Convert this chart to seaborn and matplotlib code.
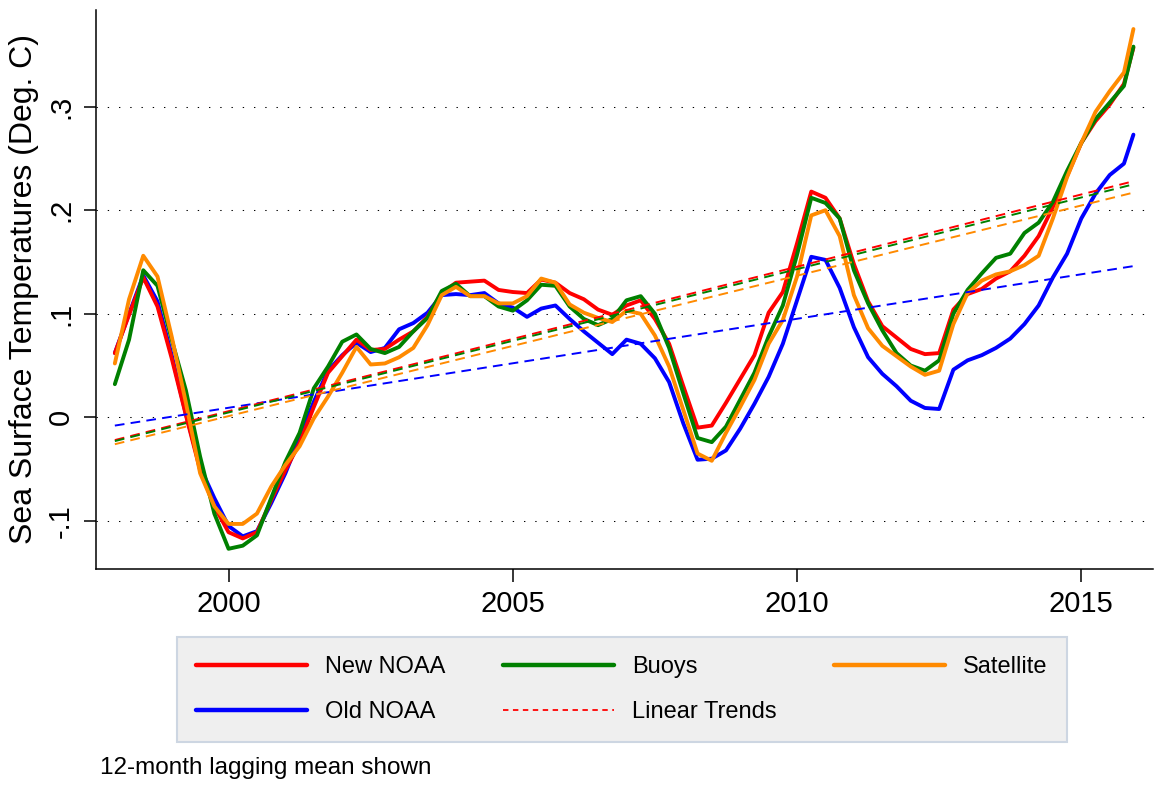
import numpy as np
import pandas as pd
import matplotlib
matplotlib.use("Agg")
import matplotlib.pyplot as plt
from matplotlib.lines import Line2D
import seaborn as sns

# quarterly time axis (1998 -> end of 2015), last point = Dec 2015
time = np.append(np.arange(1998.0, 2016.0, 0.25), 2015.917)

new_noaa = [0.062, 0.099, 0.135, 0.107, 0.057, 0.002, -0.051, -0.086,
            -0.111, -0.117, -0.111, -0.080, -0.051, -0.025, 0.010, 0.043,
            0.059, 0.075, 0.065, 0.066, 0.075, 0.083, 0.097, 0.120,
            0.130, 0.131, 0.132, 0.123, 0.121, 0.120, 0.133, 0.130,
            0.120, 0.114, 0.104, 0.099, 0.108, 0.113, 0.095, 0.071,
            0.030, -0.010, -0.008, 0.014, 0.037, 0.060, 0.101, 0.121,
            0.168, 0.218, 0.212, 0.192, 0.148, 0.112, 0.088, 0.077,
            0.066, 0.061, 0.062, 0.104, 0.119, 0.124, 0.134, 0.141,
            0.156, 0.175, 0.203, 0.233, 0.265, 0.286, 0.302, 0.322, 0.357]

old_noaa = [0.062, 0.100, 0.137, 0.112, 0.060, 0.003, -0.048, -0.078,
            -0.105, -0.115, -0.110, -0.083, -0.054, -0.020, 0.015, 0.045,
            0.060, 0.072, 0.063, 0.067, 0.085, 0.091, 0.101, 0.118,
            0.119, 0.118, 0.120, 0.110, 0.106, 0.097, 0.105, 0.108,
            0.095, 0.083, 0.072, 0.061, 0.075, 0.071, 0.057, 0.034,
            -0.006, -0.041, -0.040, -0.032, -0.011, 0.013, 0.039, 0.071,
            0.113, 0.155, 0.152, 0.125, 0.087, 0.058, 0.042, 0.030,
            0.016, 0.009, 0.008, 0.046, 0.055, 0.060, 0.067, 0.076,
            0.090, 0.108, 0.135, 0.158, 0.192, 0.216, 0.234, 0.245, 0.273]

buoys = [0.032, 0.075, 0.142, 0.127, 0.075, 0.026, -0.038, -0.093,
         -0.127, -0.124, -0.114, -0.078, -0.043, -0.015, 0.028, 0.049,
         0.073, 0.080, 0.066, 0.062, 0.068, 0.083, 0.096, 0.122,
         0.129, 0.117, 0.117, 0.107, 0.103, 0.113, 0.128, 0.127,
         0.107, 0.095, 0.089, 0.095, 0.113, 0.117, 0.100, 0.067,
         0.023, -0.020, -0.024, -0.009, 0.017, 0.043, 0.078, 0.108,
         0.157, 0.212, 0.207, 0.192, 0.142, 0.110, 0.084, 0.062,
         0.050, 0.045, 0.055, 0.100, 0.123, 0.139, 0.154, 0.158,
         0.178, 0.188, 0.208, 0.238, 0.265, 0.288, 0.304, 0.320, 0.358]

satellite = [0.052, 0.114, 0.156, 0.136, 0.078, 0.014, -0.054, -0.086,
             -0.103, -0.103, -0.093, -0.067, -0.046, -0.028, -0.001, 0.020,
             0.043, 0.068, 0.051, 0.052, 0.058, 0.067, 0.089, 0.118,
             0.126, 0.117, 0.117, 0.110, 0.110, 0.117, 0.134, 0.130,
             0.109, 0.101, 0.096, 0.092, 0.103, 0.100, 0.079, 0.049,
             0.007, -0.035, -0.042, -0.015, 0.010, 0.036, 0.071, 0.094,
             0.136, 0.195, 0.200, 0.175, 0.118, 0.086, 0.069, 0.059,
             0.049, 0.041, 0.045, 0.090, 0.120, 0.132, 0.138, 0.141,
             0.147, 0.156, 0.192, 0.232, 0.265, 0.295, 0.315, 0.333, 0.375]

# linear trend lines: value at start and end of the period
trend_x = [1998.0, 2015.917]
trend_new = [-0.022, 0.228]
trend_old = [-0.008, 0.146]
trend_buoys = [-0.023, 0.225]
trend_sat = [-0.026, 0.217]

series_names = ["Old NOAA", "New NOAA", "Buoys", "Satellite"]
colors = {"New NOAA": "#ff0000", "Old NOAA": "#0000ff",
          "Buoys": "#008000", "Satellite": "#ff8a00"}

yticks = [-0.1, 0, 0.1, 0.2, 0.3]
ytick_labels = ["-.1", "0", ".1", ".2", ".3"]
xticks = [2000, 2005, 2010, 2015]

df = pd.concat([
    pd.DataFrame({"year": time, "sst": new_noaa, "series": "New NOAA"}),
    pd.DataFrame({"year": time, "sst": old_noaa, "series": "Old NOAA"}),
    pd.DataFrame({"year": time, "sst": buoys, "series": "Buoys"}),
    pd.DataFrame({"year": time, "sst": satellite, "series": "Satellite"}),
])

sns.set_style("white")
plt.rcParams["font.family"] = ["Liberation Sans", "DejaVu Sans"]
plt.rcParams["text.color"] = "black"
plt.rcParams["xtick.color"] = "black"
plt.rcParams["ytick.color"] = "black"
plt.rcParams["axes.labelcolor"] = "black"

fig = plt.figure(figsize=(11.69, 7.92), dpi=100)
ax = fig.add_axes([0.0819, 0.2816, 0.9042, 0.7058])

# dotted horizontal grid
for yv in yticks:
    ax.axhline(yv, color="black", lw=0.75, ls=(0, (1.3, 9.5)), zorder=0)

sns.lineplot(data=df, x="year", y="sst", hue="series", hue_order=series_names,
             palette=colors, estimator=None, lw=2.8, legend=False, ax=ax)

for tr, name in [(trend_old, "Old NOAA"), (trend_new, "New NOAA"),
                 (trend_buoys, "Buoys"), (trend_sat, "Satellite")]:
    ax.plot(trend_x, tr, color=colors[name], lw=1.4, ls=(0, (5, 3.2)), zorder=5)

ax.set_xlim(1997.664, 2016.257)
ax.set_ylim(-0.1465, 0.3934)
ax.set_xticks(xticks)
ax.set_xticklabels([str(x) for x in xticks], fontsize=21)
ax.set_yticks(yticks)
ax.set_yticklabels(ytick_labels, fontsize=21, rotation=90, va="center")
ax.tick_params(axis="both", direction="out", length=9, width=1.1, color="black",
               labelcolor="black", bottom=True, left=True, pad=6)
ax.set_xlabel("")
ax.set_ylabel("Sea Surface Temperatures (Deg. C)", fontsize=23, color="black")
ax.yaxis.set_label_coords(-0.054, 0.5)

sns.despine(ax=ax)
for side in ["left", "bottom"]:
    ax.spines[side].set_color("black")
    ax.spines[side].set_linewidth(1.1)

handles = [
    Line2D([], [], color=colors["New NOAA"], lw=3.2),
    Line2D([], [], color=colors["Old NOAA"], lw=3.2),
    Line2D([], [], color=colors["Buoys"], lw=3.2),
    Line2D([], [], color=colors["New NOAA"], lw=1.3, ls=(0, (3, 2.5))),
    Line2D([], [], color=colors["Satellite"], lw=3.2),
]
labels = ["New NOAA", "Old NOAA", "Buoys", "Linear Trends", "Satellite"]
leg = fig.legend(handles, labels, ncol=3, loc="upper left",
                 bbox_to_anchor=(0.1514, 0.1957), borderaxespad=0,
                 fontsize=17, handlelength=4.7, handletextpad=0.75,
                 columnspacing=2.45, labelspacing=0.95, borderpad=0.82,
                 frameon=True, fancybox=False, facecolor="#efefef",
                 edgecolor="#cdd6e2", framealpha=1)
leg.get_frame().set_linewidth(1.5)

fig.text(100 / 1169, 1 - 768 / 792, "12-month lagging mean shown",
         fontsize=17.5, va="center", ha="left", color="black")

fig.savefig("out.png", dpi=100)
plt.close(fig)
